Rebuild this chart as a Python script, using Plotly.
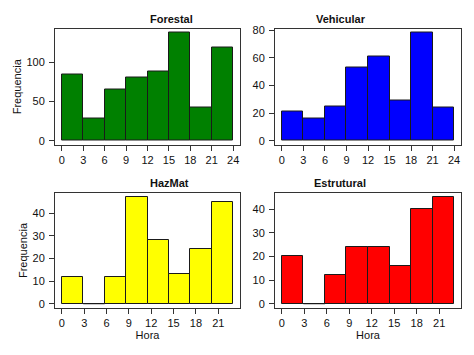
import plotly.graph_objects as go

# ---- data ----
titles = ["Forestal", "Vehicular", "HazMat", "Estrutural"]
edges_top = [0, 3, 6, 9, 12, 15, 18, 21, 24]
edges_bottom = [0, 2.875, 5.75, 8.625, 11.5, 14.375, 17.25, 20.125, 23]
forestal = [85, 28, 66, 81, 89, 138, 43, 119]
vehicular = [21, 16, 25, 53, 61, 29, 78, 24]
hazmat = [12, 0, 12, 47, 28, 13, 24, 45]
estrutural = [20, 0, 12, 24, 24, 16, 40, 45]
xticks_top = [0, 3, 6, 9, 12, 15, 18, 21, 24]
xticks_bottom = [0, 3, 6, 9, 12, 15, 18, 21]
yticks = [[0, 50, 100], [0, 20, 40, 60, 80], [0, 10, 20, 30, 40], [0, 10, 20, 30, 40]]
colors = ["#008000", "#0000FF", "#FFFF00", "#FF0000"]

series = [forestal, vehicular, hazmat, estrutural]
edges = [edges_top, edges_top, edges_bottom, edges_bottom]
xticks = [xticks_top, xticks_top, xticks_bottom, xticks_bottom]

W, H = 474, 355
xdom = [[55 / W, 240 / W], [275 / W, 461 / W]]
ydom = [[1 - 145 / H, 1 - 28.5 / H], [1 - 308 / H, 1 - 193 / H]]

fig = go.Figure()
font = "Liberation Sans, Arial, sans-serif"

for i in range(4):
    r, c = divmod(i, 2)
    xa = "x" if i == 0 else f"x{i+1}"
    ya = "y" if i == 0 else f"y{i+1}"
    e = edges[i]
    vals = series[i]
    centers = [(e[k] + e[k + 1]) / 2 for k in range(len(vals))]
    widths = [e[k + 1] - e[k] for k in range(len(vals))]
    fig.add_trace(go.Bar(x=centers, y=vals, width=widths, xaxis=xa, yaxis=ya,
                         marker=dict(color=colors[i], line=dict(color="#1a1a1a", width=1)),
                         showlegend=False, hoverinfo="skip"))
    # zero-count bins drawn as flat outline
    for k, v in enumerate(vals):
        if v == 0:
            fig.add_trace(go.Scatter(x=[e[k], e[k + 1]], y=[0, 0], mode="lines",
                                     line=dict(color="#1a1a1a", width=1), xaxis=xa, yaxis=ya,
                                     showlegend=False, hoverinfo="skip"))
    xr = [e[0] - 0.04 * (e[-1] - e[0]), e[-1] + 0.04 * (e[-1] - e[0])]
    ymax = max(vals)
    yr = [-0.04 * ymax, ymax * 1.04]
    axx = dict(domain=xdom[c], range=xr, anchor=ya, showgrid=False, zeroline=False,
               showline=True, mirror=True, linecolor="#333333", linewidth=1,
               ticks="outside", ticklen=5, tickcolor="#333333", tickwidth=1,
               tickvals=xticks[i], ticktext=[str(t) for t in xticks[i]], automargin=False,
               tickfont=dict(family=font, size=11, color="#111111"), ticklabelstandoff=0)
    axy = dict(domain=ydom[r], range=yr, anchor=xa, showgrid=False, zeroline=False,
               showline=True, mirror=True, linecolor="#333333", linewidth=1,
               ticks="outside", ticklen=5, tickcolor="#333333", tickwidth=1,
               tickvals=yticks[i], ticktext=[str(t) for t in yticks[i]], automargin=False,
               tickfont=dict(family=font, size=11, color="#111111"), ticklabelstandoff=2)
    if r == 1:
        axx["title"] = dict(text="Hora", font=dict(family=font, size=11, color="#111111"), standoff=3)
    if c == 0:
        axy["title"] = dict(text="Frequencia", font=dict(family=font, size=11, color="#111111"), standoff=2)
    fig.layout[("xaxis" if i == 0 else f"xaxis{i+1}")] = axx
    fig.layout[("yaxis" if i == 0 else f"yaxis{i+1}")] = axy
    fig.add_annotation(text=f"<b>{titles[i]}</b>", xref="paper", yref="paper",
                       x=(xdom[c][0] + xdom[c][1]) / 2, y=ydom[r][1], yanchor="bottom",
                       yshift=2, showarrow=False, font=dict(family=font, size=11, color="#111111"))

fig.update_layout(width=W, height=H, margin=dict(l=0, r=0, t=0, b=0),
                  plot_bgcolor="white", paper_bgcolor="white", bargap=0)
fig.write_html("out.html", config={"displayModeBar": False},
               post_script="document.body.style.margin='0';")
